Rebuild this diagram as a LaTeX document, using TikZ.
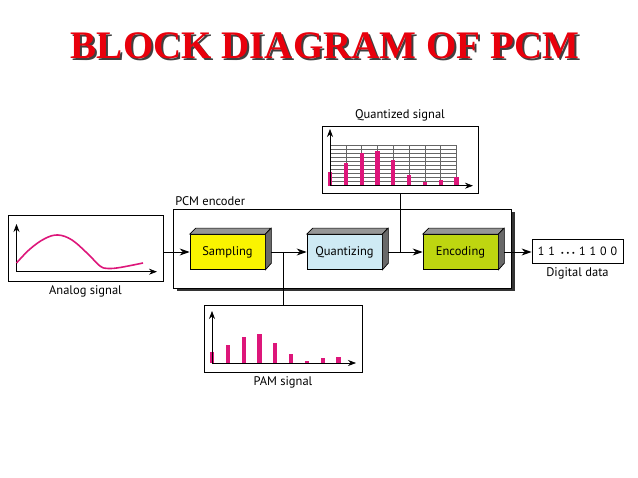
\documentclass[tikz,border=0pt]{standalone}
\usepackage{fontspec}
\setmainfont{PT Sans}
\newfontfamily\titlefont{Liberation Serif}
\usepackage{tikz}
\usetikzlibrary{shadows,arrows.meta}
\definecolor{titlered}{RGB}{232,0,12}
\definecolor{sampyellow}{RGB}{250,244,0}
\definecolor{quantblue}{RGB}{206,234,244}
\definecolor{encgreen}{RGB}{190,214,16}
\definecolor{topgray}{RGB}{150,150,150}
\definecolor{sidegray}{RGB}{105,105,105}
\definecolor{sigpink}{RGB}{221,22,122}
\newcommand{\pcmtitle}{BLOCK DIAGRAM OF PCM}
\tikzstyle{heading}=[font=\titlefont\bfseries\fontsize{39}{44}\selectfont]
\tikzstyle{block}=[draw, line width=0.7pt, minimum width=75pt, minimum height=35pt, inner sep=0pt, font=\fontsize{12.5}{14}\selectfont]
\tikzstyle{sigbox}=[draw, line width=0.8pt, inner sep=0pt]
\tikzstyle{lbl}=[inner sep=1pt, font=\fontsize{12.5}{14}\selectfont]
\tikzstyle{to}=[->,>={Stealth[length=10pt,width=7pt]},line width=0.9pt]
\tikzstyle{axis}=[->,>={Stealth[length=8pt,width=6pt]},line width=0.7pt]
\tikzstyle{bar}=[sigpink, line width=4.2pt]
\tikzstyle{grid}=[black!60, line width=0.45pt]

\begin{document}
\begin{tikzpicture}[x=1pt, y=-1pt]
            \useasboundingbox (0,0) rectangle (638,478);
            \node[heading, text=titlered] (title) at (325,47) {\rlap{\raisebox{-2pt}{\hspace{2pt}\color{black!75}\pcmtitle}}\pcmtitle};
            \node[sigbox, minimum width=155pt, minimum height=66pt] (ana) at (85.5,248.5) {};
            \node[lbl, below=3pt] (analbl) at (ana.south) {Analog signal};
            \node[sigbox, fill=white, minimum width=338pt, minimum height=79pt,
                drop shadow={shadow xshift=3.5pt, shadow yshift=-3.5pt, fill=black!80, opacity=1}] (pcm) at (342.5,248.5) {};
            \node[lbl, anchor=south west] (pcmlbl) at ([xshift=1pt,yshift=2pt]pcm.north west) {PCM encoder};
            \node[block, fill=sampyellow] (smp) at (227.5,252) {Sampling};
            \node[block, fill=quantblue] (qnt) at (344.5,252) {Quantizing};
            \node[block, fill=encgreen] (enc) at (460.5,252) {Encoding};
            \foreach \b in {smp,qnt,enc} {
                \filldraw[fill=topgray, line width=0.7pt] (\b.north west) -- ++(6,-6) -- ++(75,0) -- (\b.north east) -- cycle;
                \filldraw[fill=sidegray, line width=0.7pt] (\b.north east) -- ++(6,-6) -- ++(0,35) -- (\b.south east) -- cycle;
            }
            \node[sigbox, minimum width=91pt, minimum height=24pt, font=\fontsize{12}{14}\selectfont] (dig) at (577.5,251) {1\,\,1\,\,\,{\fontsize{7}{9}\selectfont\textbullet\,\,\textbullet\,\,\textbullet}\,\,1\,\,1\,\,0\,\,0};
            \node[lbl, below=3pt] (diglbl) at (dig.south) {Digital data};
            \node[sigbox, minimum width=156pt, minimum height=67pt] (qbox) at (400,159.5) {};
            \node[lbl, above=3pt] (qlbl) at (qbox.north) {Quantized signal};
            \node[sigbox, minimum width=158pt, minimum height=67pt] (pam) at (283,338.5) {};
            \node[lbl, below=3pt] (pamlbl) at (pam.south) {PAM signal};
            \coordinate (jp) at (283,252);
            \coordinate (jq) at (400,252);
            \draw[to] (ana.east |- smp.west) -- (smp.west);
            \draw[to] ([xshift=6pt]smp.east) -- (qnt.west);
            \draw[to] ([xshift=6pt]qnt.east) -- (enc.west);
            \draw[to] ([xshift=6pt]enc.east) -- (dig.west |- enc.east);
            \draw[line width=0.9pt] (jp) -- (pam.north);
            \draw[line width=0.9pt] (jq) -- (qbox.south);
            \draw[axis] (16.5,271.7) -- (157,271.7);
            \draw[axis] (16.5,271.7) -- (16.5,224);
            \draw[sigpink, line width=1.6pt] plot[smooth, tension=0.6] coordinates {(16.5,263) (30,249) (45,238.5) (58,235) (72,240) (88,254) (100,266) (108,268.5) (120,267.5) (143,263)};
            \foreach \k in {0,...,9}
                \draw[grid] (330,145.7+4*\k) -- (456.5,145.7+4*\k);
            \foreach \i in {1,...,8}
                \draw[grid] (330+15.8*\i,145.7) -- (330+15.8*\i,185.7);
            \foreach \i/\h in {0/13.4,1/23,2/32.4,3/35,4/25.7,5/10.7,6/3.4,7/5.7,8/8.4}
                \draw[bar] (330+15.8*\i,185.7) -- ++(0,-\h);
            \draw[axis] (330,185.7) -- (473,185.7);
            \draw[axis] (330,185.7) -- (330,129);
            \foreach \i/\h in {0/10.7,1/18,2/26.3,3/28.7,4/20.3,5/8.7,6/2,7/4.7,8/6.3}
                \draw[bar] (212+15.8*\i,363) -- ++(0,-\h);
            \draw[axis] (212,363) -- (356,363);
            \draw[axis] (212,363) -- (212,311);
        \end{tikzpicture}
\end{document}
